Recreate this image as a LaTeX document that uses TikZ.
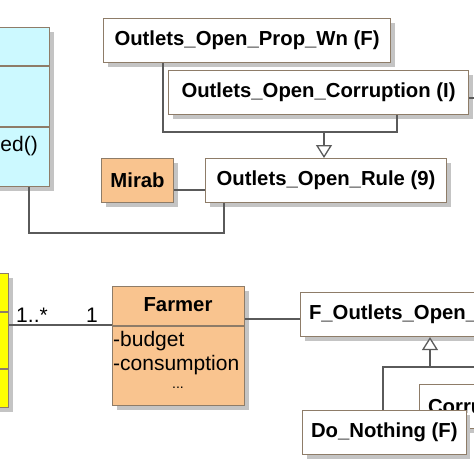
\documentclass[tikz,border=0pt]{standalone}
\usepackage{fontspec}
\setmainfont{Liberation Sans}
\usetikzlibrary{arrows.meta, positioning, shadows}

\definecolor{brdr}{HTML}{8E7C68}
\definecolor{cyanfill}{HTML}{CCF9FF}
\definecolor{peach}{HTML}{F9C48F}
\definecolor{yel}{HTML}{FFFF00}
\definecolor{wirec}{HTML}{5A5A5A}
\definecolor{shade}{HTML}{C4C4C4}

\begin{document}
\begin{tikzpicture}[
      x=1pt, y=-1pt,
      umlbox/.style={draw=brdr, line width=1.1pt, anchor=north west, inner xsep=8.5pt, inner ysep=0pt,
        minimum height=44pt, align=left,
        drop shadow={shadow xshift=4pt, shadow yshift=-4pt, fill=shade, opacity=1}},
      rulebox/.style={umlbox, fill=white, font=\bfseries\fontsize{20.3}{24}\selectfont},
      agent/.style={umlbox, fill=peach, font=\bfseries\fontsize{20.3}{24}\selectfont},
      cls/.style={draw=brdr, line width=1.1pt, anchor=north west, inner sep=0pt,
        drop shadow={shadow xshift=4pt, shadow yshift=-4pt, fill=shade, opacity=1}},
      divider/.style={draw=brdr, line width=1.1pt},
      wire/.style={draw=wirec, line width=1.3pt},
      gen/.style={wire, -{Triangle[length=13pt, width=16pt, fill=white]}},
      lbl/.style={font=\fontsize{21}{24}\selectfont}
    ]
    \useasboundingbox (0,0) rectangle (474,474);
    \clip (0,0) rectangle (474,474);

    % upper part
    \node[cls, fill=cyanfill, minimum width=69pt, minimum height=159pt] (canal) at (-20,27) {};
    \draw[divider] (canal.west |- 0,66) -- (canal.east |- 0,66);
    \draw[divider] (canal.west |- 0,127) -- (canal.east |- 0,127);
    \node[lbl, anchor=east, inner sep=0pt] (canalop) at (38,146) {ed()};

    \node[rulebox, minimum width=287pt] (propwn) at (103,18) {Outlets\_Open\_Prop\_Wn (F)};
    \node[rulebox, minimum width=300pt] (corr) at (168,70) {Outlets\_Open\_Corruption (I)};
    \node[rulebox, minimum width=241pt] (rule) at (205,158) {Outlets\_Open\_Rule (9)};
    \node[agent, minimum width=72pt] (mirab) at (101,158) {Mirab};

    \coordinate (gen1) at (324,132);
    \coordinate (corrout) at (480,98);
    \coordinate (ruleturn) at (224,233);
    \draw[wire] (propwn.south -| 163,0) |- (gen1) -| (corr.south -| 397,0);
    \draw[gen] (gen1) -- (gen1 |- rule.north);
    \draw[wire] (corr.east |- corrout) -- (corrout);
    \draw[wire] (mirab.east |- 0,190) -- (rule.west |- 0,190);
    \draw[wire] (canal.south -| 29,0) |- (ruleturn) -- (ruleturn |- rule.south);

    % lower part
    \node[cls, fill=yel, minimum width=28pt, minimum height=134pt] (district) at (-20,273) {};
    \draw[divider] (district.west |- 0,312) -- (district.east |- 0,312);
    \draw[divider] (district.west |- 0,369) -- (district.east |- 0,369);

    \node[cls, fill=peach, minimum width=132pt, minimum height=119pt] (farmer) at (112,286) {};
    \draw[divider] (farmer.west |- 0,326) -- (farmer.east |- 0,326);
    \node[font=\bfseries\fontsize{20.3}{24}\selectfont] (farmertitle) at (178,305) {Farmer};
    \node[lbl, anchor=west, inner xsep=1pt] (budget) at (112,341) {-budget};
    \node[lbl, anchor=west, inner xsep=1pt] (consum) at (112,365) {-consumption};
    \node[font=\fontsize{14}{16}\selectfont, inner sep=0pt] (more) at (178,388) {...};

    \node[rulebox, text width=203pt] (fout) at (300,292) {F\_Outlets\_Open\_};
    \node[rulebox, text width=100pt] (corru) at (419,384) {Corru};
    \node[rulebox, minimum width=160pt] (donothing) at (302,410) {Do\_Nothing (F)};

    \draw[wire] (district.east |- 0,325) -- (farmer.west |- 0,325);
    \node[lbl, anchor=base, inner sep=0pt] (multa) at (32,322) {1..*};
    \node[lbl, anchor=base, inner sep=0pt] (multb) at (92,322) {1};
    \draw[wire] (farmer.east |- 0,319) -- (fout.west |- 0,319);

    \coordinate (gen2) at (430,367);
    \coordinate (genend) at (480,367);
    \draw[gen] (gen2) -- (gen2 |- fout.south);
    \draw[wire] (donothing.north -| 383,0) |- (genend);
  \end{tikzpicture}
\end{document}
